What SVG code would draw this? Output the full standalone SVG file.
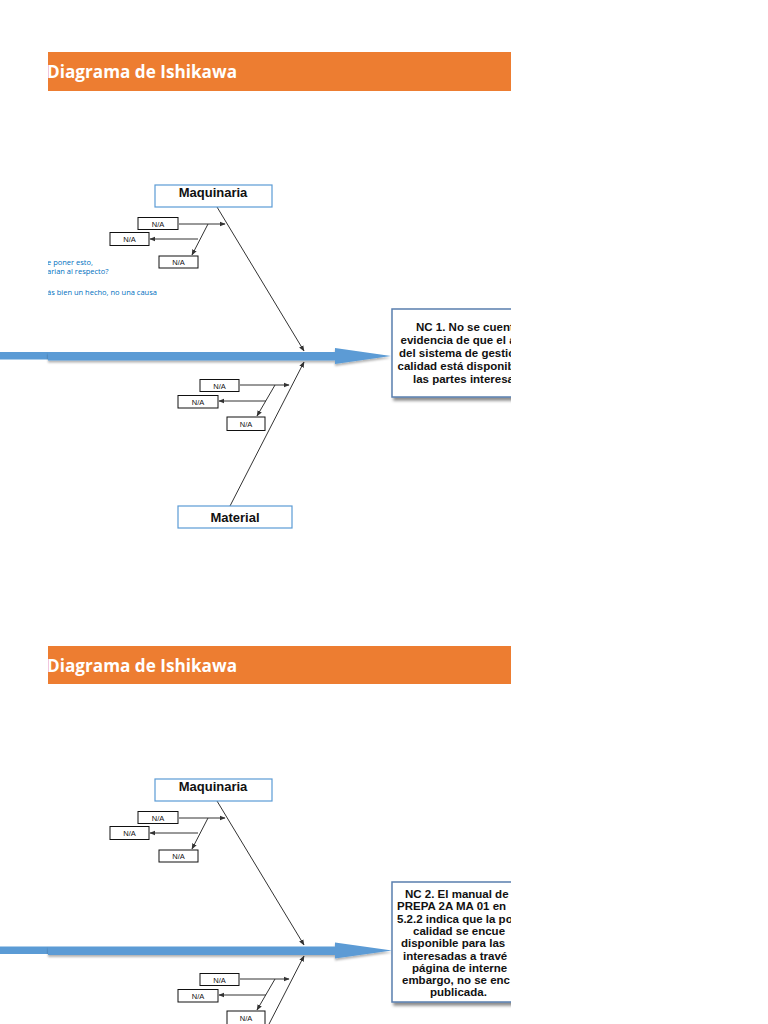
<svg xmlns="http://www.w3.org/2000/svg" width="768" height="1024" viewBox="0 0 768 1024">
<defs>
<style>
.hdr{fill:#ed7d31}
.htxt{font-family:"Open Sans","Liberation Sans",sans-serif;font-weight:700;font-size:17px;fill:#fff}
.cat{fill:#fff;stroke:#5b9bd5;stroke-width:1.2}
.cattxt{font-family:"Liberation Sans",Arial,sans-serif;font-weight:700;font-size:13px;fill:#111;text-anchor:middle}
.na{fill:#fff;stroke:#111;stroke-width:1}
.natxt{font-family:"Liberation Sans",Arial,sans-serif;font-size:7.5px;fill:#111;text-anchor:middle}
.ln{stroke:#333;stroke-width:1;fill:none;marker-end:url(#ah)}
.spine{fill:#5b9bd5}
.nc{fill:#fff;stroke:#5a7fae;stroke-width:1.5;filter:url(#sh)}
.nctxt{font-family:"Liberation Sans",Arial,sans-serif;font-weight:700;font-size:11.5px;fill:#111}
.cmt{font-family:"Open Sans","Liberation Sans",sans-serif;font-size:7.5px;fill:#0070c0}
</style>
<marker id="ah" viewBox="0 0 10 10" refX="9" refY="5" markerWidth="6" markerHeight="6" orient="auto" markerUnits="userSpaceOnUse">
<path d="M0,1 L10,5 L0,9 z" fill="#333"/>
</marker>
<filter id="sh" x="-10%" y="-10%" width="130%" height="130%">
<feDropShadow dx="2" dy="3" stdDeviation="1.5" flood-color="#000" flood-opacity="0.45"/>
</filter>
<filter id="ssh" x="-5%" y="-50%" width="110%" height="250%">
<feDropShadow dx="0" dy="2" stdDeviation="1" flood-color="#000" flood-opacity="0.3"/>
</filter>
<clipPath id="clipR"><rect x="0" y="0" width="511" height="1024"/></clipPath>
<clipPath id="clipL"><rect x="48" y="0" width="463" height="1024"/></clipPath>
</defs>
<rect width="768" height="1024" fill="#fff"/>

<!-- Page 1 -->
<g id="header1">
<rect class="hdr" x="48" y="52" width="463" height="39"/>
<g clip-path="url(#clipL)"><text class="htxt" x="47" y="78" textLength="190" lengthAdjust="spacingAndGlyphs">Diagrama de Ishikawa</text></g>
</g>
<g id="comment1" clip-path="url(#clipL)">
<text class="cmt" x="47" y="265">e poner esto,</text>
<text class="cmt" x="47" y="274">arian al respecto?</text>
<text class="cmt" x="47" y="295">ás bien un hecho, no una causa</text>
</g>
<g id="spine1">
<rect class="spine" x="0" y="352" width="48" height="7.5"/>
<g filter="url(#ssh)">
<rect class="spine" x="48" y="352" width="290" height="8.5"/>
<polygon class="spine" points="335,348 391,356 335,364"/>
</g>
</g>
<g id="connectors1">
<line class="ln" x1="217" y1="207" x2="304" y2="351"/>
<line class="ln" x1="179" y1="224" x2="225" y2="224"/>
<line class="ln" x1="208" y1="224" x2="192" y2="255"/>
<line class="ln" x1="198" y1="239" x2="150" y2="239"/>
<line class="ln" x1="230" y1="506" x2="304" y2="362"/>
<line class="ln" x1="240" y1="385" x2="289" y2="385"/>
<line class="ln" x1="275" y1="385" x2="257" y2="416"/>
<line class="ln" x1="266" y1="401" x2="219" y2="401"/>
</g>
<g id="maquinaria1">
<rect class="cat" x="155" y="185" width="117" height="22"/>
<text class="cattxt" x="213" y="197">Maquinaria</text>
</g>
<g id="na1a"><rect class="na" x="138" y="217.5" width="40" height="12"/><text class="natxt" x="158" y="226.5">N/A</text></g>
<g id="na1b"><rect class="na" x="110" y="232.5" width="39" height="13"/><text class="natxt" x="129.5" y="242">N/A</text></g>
<g id="na1c"><rect class="na" x="159" y="256" width="39" height="12"/><text class="natxt" x="178.5" y="265">N/A</text></g>
<g id="na1d"><rect class="na" x="200" y="379.5" width="39" height="12"/><text class="natxt" x="219.5" y="388.5">N/A</text></g>
<g id="na1e"><rect class="na" x="178" y="395.5" width="40" height="12.5"/><text class="natxt" x="198" y="404.5">N/A</text></g>
<g id="na1f"><rect class="na" x="227" y="417" width="38" height="13.5"/><text class="natxt" x="246" y="426.5">N/A</text></g>
<g id="material1">
<rect class="cat" x="178" y="506" width="114" height="22"/>
<text class="cattxt" x="235" y="522">Material</text>
</g>
<g id="nc1" clip-path="url(#clipR)">
<rect class="nc" x="392" y="309" width="180" height="88"/>
<text class="nctxt" x="416" y="331">NC 1. No se cuent</text>
<text class="nctxt" x="400.5" y="344">evidencia de que el a</text>
<text class="nctxt" x="399" y="357">del sistema de gestió</text>
<text class="nctxt" x="397.5" y="370">calidad está disponib</text>
<text class="nctxt" x="413" y="383">las partes interesa</text>
</g>

<!-- Page 2 -->
<g id="header2">
<rect class="hdr" x="48" y="646" width="463" height="38"/>
<g clip-path="url(#clipL)"><text class="htxt" x="47" y="672" textLength="190" lengthAdjust="spacingAndGlyphs">Diagrama de Ishikawa</text></g>
</g>
<g id="spine2">
<rect class="spine" x="0" y="946.5" width="48" height="7.5"/>
<g filter="url(#ssh)">
<rect class="spine" x="48" y="946.5" width="290" height="8.5"/>
<polygon class="spine" points="335,942.5 392,950.5 335,958.5"/>
</g>
</g>
<g id="connectors2">
<line class="ln" x1="217" y1="801" x2="304" y2="945"/>
<line class="ln" x1="179" y1="818" x2="225" y2="818"/>
<line class="ln" x1="208" y1="818" x2="192" y2="849"/>
<line class="ln" x1="198" y1="833" x2="150" y2="833"/>
<line class="ln" x1="230" y1="1100" x2="304" y2="956"/>
<line class="ln" x1="240" y1="979" x2="289" y2="979"/>
<line class="ln" x1="275" y1="979" x2="257" y2="1010"/>
<line class="ln" x1="266" y1="995" x2="219" y2="995"/>
</g>
<g id="maquinaria2">
<rect class="cat" x="155" y="779" width="117" height="22"/>
<text class="cattxt" x="213" y="791">Maquinaria</text>
</g>
<g id="na2a"><rect class="na" x="138" y="811.5" width="40" height="12"/><text class="natxt" x="158" y="820.5">N/A</text></g>
<g id="na2b"><rect class="na" x="110" y="826.5" width="39" height="13"/><text class="natxt" x="129.5" y="836">N/A</text></g>
<g id="na2c"><rect class="na" x="159" y="850" width="39" height="12"/><text class="natxt" x="178.5" y="859">N/A</text></g>
<g id="na2d"><rect class="na" x="200" y="973.5" width="39" height="12"/><text class="natxt" x="219.5" y="982.5">N/A</text></g>
<g id="na2e"><rect class="na" x="178" y="989.5" width="40" height="12.5"/><text class="natxt" x="198" y="998.5">N/A</text></g>
<g id="na2f"><rect class="na" x="227" y="1011" width="38" height="13.5"/><text class="natxt" x="246" y="1020.5">N/A</text></g>
<g id="nc2" clip-path="url(#clipR)">
<rect class="nc" x="392" y="882" width="180" height="120"/>
<text class="nctxt" x="405" y="898">NC 2. El manual de</text>
<text class="nctxt" x="397" y="910.3">PREPA 2A MA 01 en</text>
<text class="nctxt" x="397" y="922.6">5.2.2 indica que la po</text>
<text class="nctxt" x="413" y="934.9">calidad se encue</text>
<text class="nctxt" x="401" y="947.2">disponible para las</text>
<text class="nctxt" x="403" y="959.5">interesadas a travé</text>
<text class="nctxt" x="412" y="971.8">página de interne</text>
<text class="nctxt" x="402" y="984.1">embargo, no se enc</text>
<text class="nctxt" x="430" y="996.4">publicada.</text>
</g>
</svg>
